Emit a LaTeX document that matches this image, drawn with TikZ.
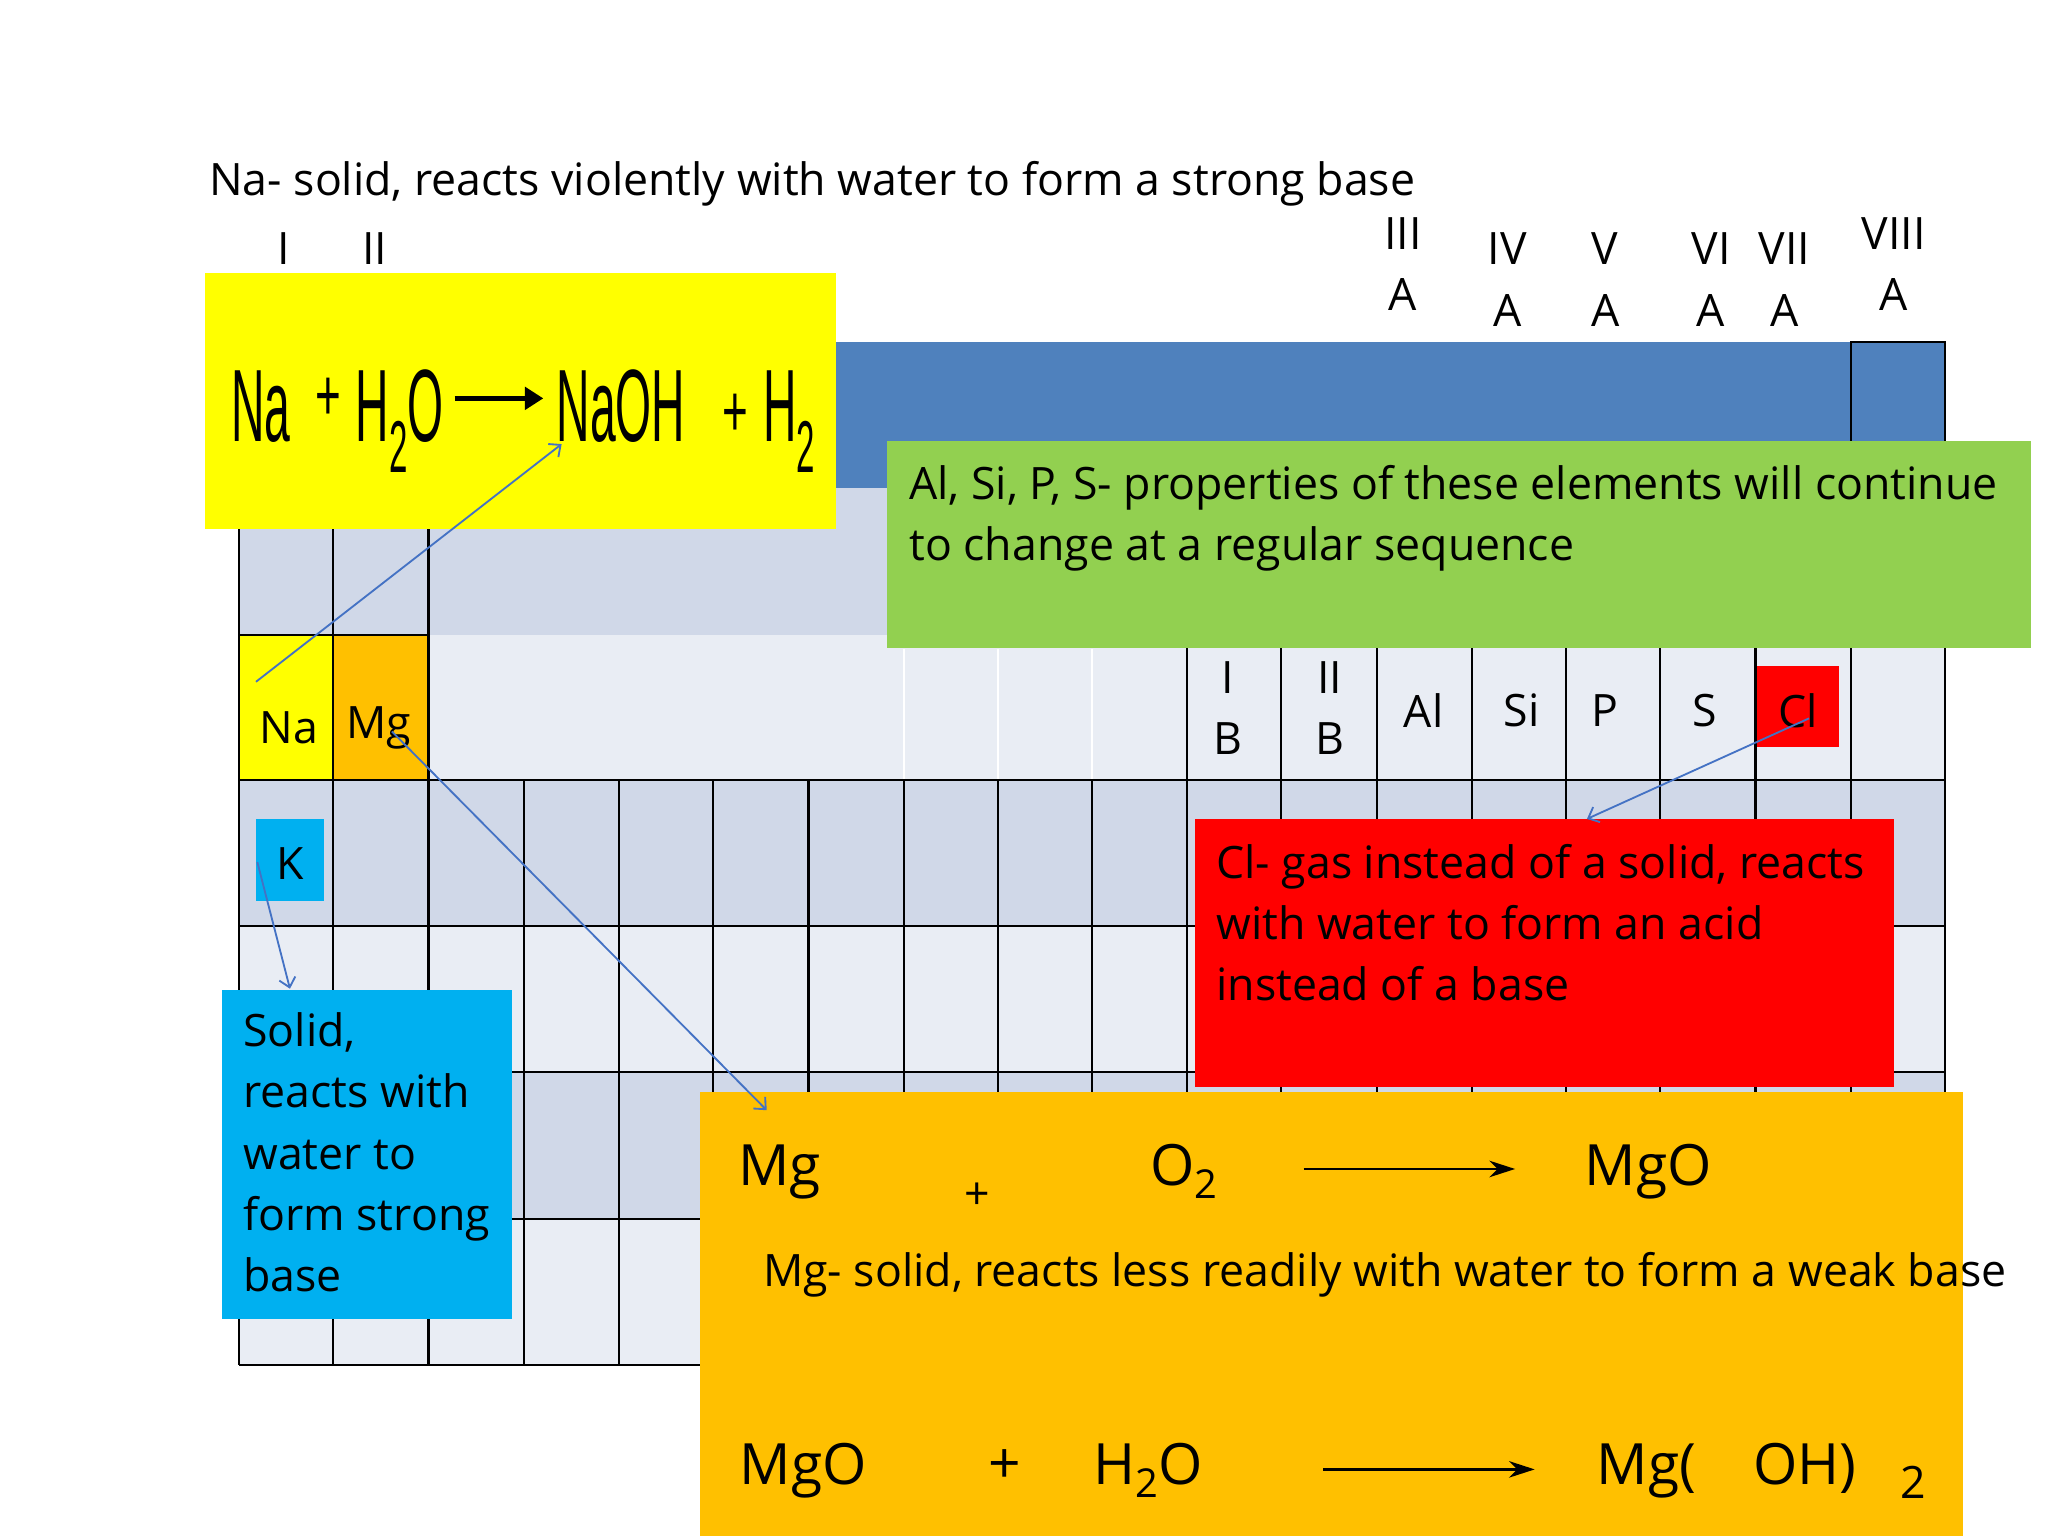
\documentclass[tikz,border=0pt]{standalone}
\usepackage{fontspec}
\setmainfont{Open Sans}
\newfontfamily\eqfont{Liberation Sans}
\usetikzlibrary{arrows.meta}
\definecolor{dk}{HTML}{D0D8E8}
\definecolor{lt}{HTML}{E9EDF4}
\definecolor{bl}{HTML}{4F81BD}
\definecolor{ye}{HTML}{FFFF00}
\definecolor{org}{HTML}{FFC000}
\definecolor{gr}{HTML}{92D050}
\definecolor{cy}{HTML}{00B0F0}
\definecolor{rd}{HTML}{FF0000}
\definecolor{ar}{HTML}{4472C4}
\newcommand{\eqs}[1]{\scalebox{0.45}[1]{\eqfont\fontsize{56}{60}\selectfont #1}}
\newcommand{\eqsub}{\raisebox{-0.3em}{\fontsize{40}{40}\selectfont 2}}
\tikzset{
 txt/.style={font=\fontsize{24.3}{33.4}\selectfont,inner sep=0pt},
 lbl/.style={font=\fontsize{24.3}{33.4}\selectfont,inner sep=0pt,align=center},
 lbl2/.style={lbl,font=\fontsize{24.3}{33.4}\selectfont},
 callout/.style={-{Straight Barb[length=5pt,width=9pt]},ar,line width=1pt},
 grid/.style={black,line width=1.2pt},
 eq/.style={inner sep=0pt},
}
\begin{document}
\begin{tikzpicture}[x=0.025cm,y=-0.025cm]
\useasboundingbox (0,0) rectangle (1568,1176);
\fill[white] (0,0) rectangle (1568,1176);
% table backgrounds
\fill[dk] (183,262) rectangle (1489,374);
\fill[dk] (183,374) rectangle (1489,486);
\fill[lt] (183,486) rectangle (1489,597);
\fill[dk] (183,597) rectangle (1489,709);
\fill[lt] (183,709) rectangle (1489,821);
\fill[dk] (183,821) rectangle (1489,933);
\fill[lt] (183,933) rectangle (1489,1045);
\fill[bl] (640,262) rectangle (1417,374);
\fill[bl] (1417,262) rectangle (1489,338);
\draw[grid] (1417,338) -- (1417,262) -- (1489,262) -- (1489,338);
% row 3 cells
\fill[ye] (183,486) rectangle (255,597);
\fill[org] (255,486) rectangle (328,597);
\foreach \x in {692,764,836} \draw[white,line width=1pt] (\x,497) -- (\x,597);
% grid lines
\foreach \x in {183,255,328} \draw[grid] (\x,374) -- (\x,1045);
\foreach \x in {401,474,546,619,692,764,836} \draw[grid] (\x,597) -- (\x,1045);
\foreach \x in {909,981,1054,1127,1199,1271,1344,1417,1489} \draw[grid] (\x,496) -- (\x,1045);
\draw[grid] (183,486) -- (328,486);
\foreach \y in {597,709,821,933,1045} \draw[grid] (183,\y) -- (1489,\y);
% row 3 labels
\node[lbl] (na) at (221,557) {Na};
\node[lbl] (mg) at (290,557) {Mg};
\node[lbl2] (ib) at (940,542) {I\\B};
\node[lbl2] (iib) at (1018,542) {II\\B};
\node[lbl] (al) at (1090,544) {Al};
\node[lbl] (si) at (1165,544) {Si};
\node[lbl] (p) at (1229,544) {P};
\node[lbl] (s) at (1305,544) {S};
\fill[rd] (1345,510) rectangle (1408,572);
\node[lbl] (cl) at (1377,544) {Cl};
% headers
\node[txt,anchor=west] (title) at (160,141) {Na- solid, reacts violently with water to form a strong base};
\node[lbl] (g1) at (217,190) {I};
\node[lbl] (g2) at (287,190) {II};
\node[lbl2] (g3) at (1074,202) {III\\A};
\node[lbl2] (g4) at (1154,214) {IV\\A};
\node[lbl2] (g5) at (1229,214) {V\\A};
\node[lbl2] (g6) at (1310,214) {VI\\A};
\node[lbl2] (g7) at (1366,214) {VII\\A};
\node[lbl2] (g8) at (1450,202) {VIII\\A};
% yellow box
\fill[ye] (157,209) rectangle (640,405);
\node[eq,anchor=base west] (na1) at (177,338) {\eqs{Na}};
\node[eq,anchor=base west] (pl1) at (241,322) {\scalebox{0.6}[1]{\eqfont\fontsize{40}{40}\selectfont +}};
\node[eq,anchor=base west] (h2o1) at (272,338) {\eqs{H\eqsub O}};
\coordinate (ea1) at (348,305); \coordinate (ea2) at (416,305);
\draw[-{Triangle[length=10pt,width=12pt]},line width=2.5pt] (ea1) -- (ea2);
\node[eq,anchor=base west] (naoh) at (426,338) {\eqs{NaOH}};
\node[eq,anchor=base west] (pl2) at (553,334) {\scalebox{0.6}[1]{\eqfont\fontsize{40}{40}\selectfont +}};
\node[eq,anchor=base west] (h2) at (584,338) {\eqs{H\eqsub}};
% green box
\fill[gr] (679,338) rectangle (1555,496);
\node[txt,anchor=north west,align=left] (green) at (696,356) {Al, Si, P, S- properties of these elements will continue\\to change at a regular sequence};
% K
\fill[cy] (196,627) rectangle (248,690);
\node[lbl] (k) at (222,661) {K};
% cyan box
\fill[cy] (170,758) rectangle (392,1010);
\node[txt,anchor=north west,align=left] (cyt) at (186,775) {Solid,\\reacts with\\water to\\form strong\\base};
% red box
\fill[rd] (915,627) rectangle (1450,832);
\node[txt,anchor=north west,align=left] (redt) at (931,646) {Cl- gas instead of a solid, reacts\\with water to form an acid\\instead of a base};
% orange box
\fill[org] (536,836) rectangle (1503,1176);
\tikzset{big/.style={font=\fontsize{31}{36}\selectfont,inner sep=0pt}}
\node[big] (m1) at (597,897) {Mg};
\node[txt] (p1) at (748,916) {+};
\node[big] (o2) at (907,897) {O\textsubscript{2}};
\coordinate (a1s) at (998,895); \coordinate (a1e) at (1160,895);
\draw[-{Stealth[length=14pt,width=9pt]},line width=1.5pt] (a1s) -- (a1e);
\node[big] (mgo1) at (1262,897) {MgO};
\node[txt,anchor=west] (mgtxt) at (584,976) {Mg- solid, reacts less readily with water to form a weak base};
\node[big] (mgo2) at (615,1126) {MgO};
\node[big] (p2) at (769,1123) {+};
\node[big] (h2o) at (879,1126) {H\textsubscript{2}O};
\coordinate (a2s) at (1013,1125); \coordinate (a2e) at (1175,1125);
\draw[-{Stealth[length=14pt,width=9pt]},line width=1.5pt] (a2s) -- (a2e);
\node[big] (mgoh) at (1322,1126) {Mg(\quad OH)};
\node[txt] (sub2) at (1465,1135) {2};
% arrows
\coordinate (s1) at (196,522); \coordinate (e1) at (430,340);
\draw[callout] (s1) -- (e1);
\coordinate (s2) at (197,660); \coordinate (e2) at (222,757);
\draw[callout] (s2) -- (e2);
\coordinate (s3) at (300,560); \coordinate (e3) at (587,850);
\draw[callout] (s3) -- (e3);
\coordinate (s4) at (1385,550); \coordinate (e4) at (1215,627);
\draw[callout] (s4) -- (e4);
\end{tikzpicture}
\end{document}
